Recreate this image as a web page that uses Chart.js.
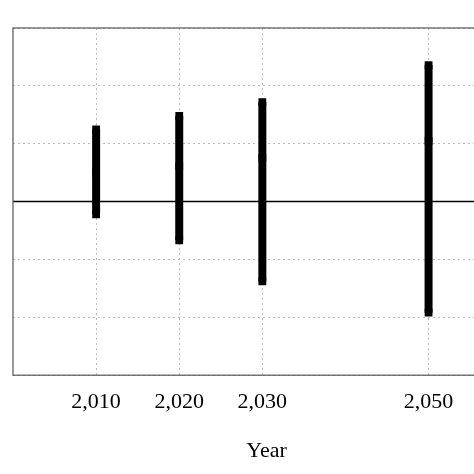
<!DOCTYPE html>
<html>
<head>
<script src="https://cdn.jsdelivr.net/npm/chart.js@4"></script>
<style>
  html, body { margin: 0; padding: 0; overflow: hidden; background: #fff; }
  #wrap { width: 530px; height: 474px; }
</style>
</head>
<body>
<div id="wrap"><canvas id="chart"></canvas></div>
<script>
const years = [2010, 2020, 2030, 2050];
const lows = [-0.22, -0.67, -1.38, -1.92];
const mids = [0.5, 0.61, 0.76, 1.05];
const highs = [1.25, 1.48, 1.72, 2.36];
const xTicks = [2010, 2020, 2030, 2050];

const bars = years.map((yr, i) => ({
  data: [
    { x: yr, y: lows[i] },
    { x: yr, y: mids[i] },
    { x: yr, y: highs[i] },
  ],
  borderColor: "#000",
  backgroundColor: "#000",
  borderWidth: 8,
  pointStyle: "rect",
  pointRadius: 5.5,
  pointBorderWidth: 0,
}));

const zeroLine = {
  data: [{ x: 2000, y: 0 }, { x: 2060, y: 0 }],
  borderColor: "#000",
  borderWidth: 1.5,
  pointRadius: 0,
};

const frame = {
  id: "frame",
  afterDraw(chart) {
    const { ctx, chartArea: a } = chart;
    ctx.save();
    ctx.strokeStyle = "#555";
    ctx.lineWidth = 1.2;
    ctx.strokeRect(a.left, a.top, a.right - a.left, a.bottom - a.top);
    ctx.restore();
  },
};

new Chart(document.getElementById("chart"), {
  type: "line",
  data: { datasets: [zeroLine, ...bars] },
  plugins: [frame],
  options: {
    responsive: true,
    maintainAspectRatio: false,
    animation: false,
    layout: { padding: { left: 13, top: 28, right: 10, bottom: 4 } },
    plugins: { legend: { display: false }, tooltip: { enabled: false } },
    scales: {
      x: {
        type: "linear",
        min: 2000,
        max: 2061,
        afterBuildTicks: (axis) => { axis.ticks = xTicks.map((v) => ({ value: v })); },
        grid: { color: "#bbb", drawTicks: false },
        border: { dash: [2, 3], display: false },
        ticks: {
          padding: 14,
          color: "#000",
          font: { family: "Liberation Serif", size: 22 },
        },
        title: {
          display: true,
          text: "Year",
          color: "#000",
          padding: { top: 8, bottom: 6 },
          font: { family: "Liberation Serif", size: 22 },
        },
      },
      y: {
        min: -3,
        max: 3,
        ticks: { stepSize: 1, display: false },
        grid: { color: "#bbb", drawTicks: false },
        border: { dash: [2, 3], display: false },
      },
    },
  },
});
</script>
</body>
</html>
